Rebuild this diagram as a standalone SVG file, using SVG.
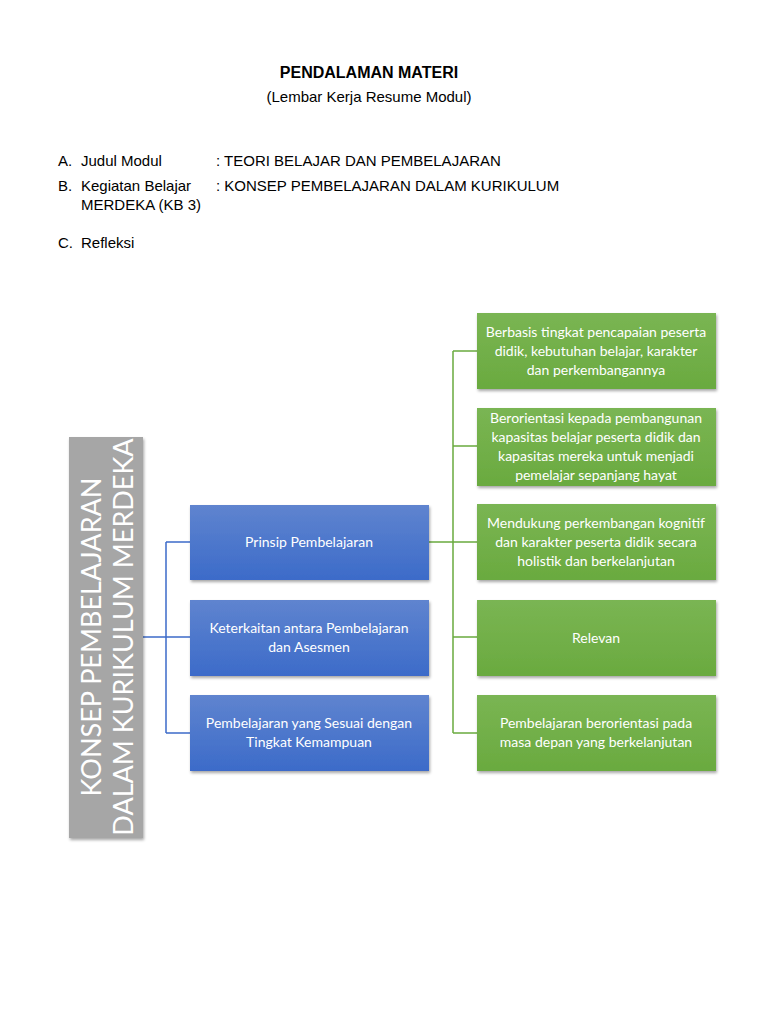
<svg xmlns="http://www.w3.org/2000/svg" width="768" height="1024" viewBox="0 0 768 1024">
<defs>
<linearGradient id="gb" x1="0" y1="0" x2="0" y2="1"><stop offset="0" stop-color="#5f84cf"/><stop offset="1" stop-color="#3c6bc9"/></linearGradient>
<linearGradient id="gg" x1="0" y1="0" x2="0" y2="1"><stop offset="0" stop-color="#7ab553"/><stop offset="1" stop-color="#6aaa3f"/></linearGradient>
<filter id="sh" x="-10%" y="-10%" width="120%" height="130%"><feDropShadow dx="1" dy="2" stdDeviation="1.5" flood-color="#000" flood-opacity="0.35"/></filter>
</defs>
<style>
.h{font-family:"Liberation Sans",Arial,sans-serif;fill:#000}
.t{font-family:Lato,"Open Sans",sans-serif;fill:#fff;font-size:14px;text-anchor:middle}
.b{fill:url(#gb);filter:url(#sh)}
.g{fill:url(#gg);filter:url(#sh)}
.cb{stroke:#3c6bc9;stroke-width:1.5;fill:none}
.cg{stroke:#6aaa3f;stroke-width:1.5;fill:none}
</style>
<rect width="768" height="1024" fill="#fff"/>
<text class="h" x="369" y="78" font-size="16" font-weight="bold" text-anchor="middle">PENDALAMAN MATERI</text>
<text class="h" x="369" y="102" font-size="15" text-anchor="middle">(Lembar Kerja Resume Modul)</text>
<text class="h" x="58" y="166" font-size="15">A.</text>
<text class="h" x="81" y="166" font-size="15">Judul Modul</text>
<text class="h" x="216" y="166" font-size="15">: TEORI BELAJAR DAN PEMBELAJARAN</text>
<text class="h" x="58" y="191" font-size="15">B.</text>
<text class="h" x="81" y="191" font-size="15">Kegiatan Belajar</text>
<text class="h" x="216" y="191" font-size="15">: KONSEP PEMBELAJARAN DALAM KURIKULUM</text>
<text class="h" x="81" y="210" font-size="15">MERDEKA (KB 3)</text>
<text class="h" x="58" y="248" font-size="15">C.</text>
<text class="h" x="81" y="248" font-size="15">Refleksi</text>
<g id="connectors">
<path class="cb" d="M143,637H166M166,542V733M166,542H190M166,637H190M166,733H190"/>
<path class="cg" d="M429,542H453M453,351V733M453,351H477M453,446H477M453,542H477M453,637H477M453,733H477"/>
</g>
<g id="root">
<rect x="69" y="437" width="74" height="401" fill="#a6a6a6" filter="url(#sh)"/>
<text transform="translate(101,637) rotate(-90)" font-family="Lato,'Open Sans',sans-serif" font-size="27" fill="#fff" text-anchor="middle">KONSEP PEMBELAJARAN</text>
<text transform="translate(133,637) rotate(-90)" font-family="Lato,'Open Sans',sans-serif" font-size="27" fill="#fff" text-anchor="middle">DALAM KURIKULUM MERDEKA</text>
</g>
<g id="b1"><rect class="b" x="190" y="505" width="239" height="75"/><text class="t" x="309" y="547">Prinsip Pembelajaran</text></g>
<g id="b2"><rect class="b" x="190" y="600" width="239" height="76"/><text class="t" x="309" y="633">Keterkaitan antara Pembelajaran</text><text class="t" x="309" y="652">dan Asesmen</text></g>
<g id="b3"><rect class="b" x="190" y="695" width="239" height="76"/><text class="t" x="309" y="728">Pembelajaran yang Sesuai dengan</text><text class="t" x="309" y="747">Tingkat Kemampuan</text></g>
<g id="g1"><rect class="g" x="477" y="313" width="239" height="76"/><text class="t" x="596" y="337">Berbasis tingkat pencapaian peserta</text><text class="t" x="596" y="356">didik, kebutuhan belajar, karakter</text><text class="t" x="596" y="375">dan perkembangannya</text></g>
<g id="g2"><rect class="g" x="477" y="408" width="239" height="78"/><text class="t" x="596" y="423">Berorientasi kepada pembangunan</text><text class="t" x="596" y="442">kapasitas belajar peserta didik dan</text><text class="t" x="596" y="461">kapasitas mereka untuk menjadi</text><text class="t" x="596" y="480">pemelajar sepanjang hayat</text></g>
<g id="g3"><rect class="g" x="477" y="504" width="239" height="76"/><text class="t" x="596" y="528">Mendukung perkembangan kognitif</text><text class="t" x="596" y="547">dan karakter peserta didik secara</text><text class="t" x="596" y="566">holistik dan berkelanjutan</text></g>
<g id="g4"><rect class="g" x="477" y="600" width="239" height="76"/><text class="t" x="596" y="643">Relevan</text></g>
<g id="g5"><rect class="g" x="477" y="695" width="239" height="76"/><text class="t" x="596" y="728">Pembelajaran berorientasi pada</text><text class="t" x="596" y="747">masa depan yang berkelanjutan</text></g>
</svg>
